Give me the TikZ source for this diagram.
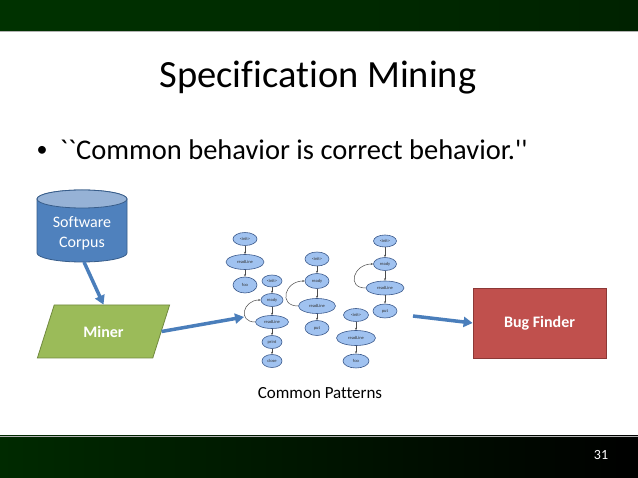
\documentclass[tikz,border=0pt]{standalone}
\usepackage{fontspec}
\setmainfont{Carlito}[Ligatures={NoCommon}]
\usetikzlibrary{arrows.meta, positioning, shapes.geometric}

\definecolor{barleft}{RGB}{0,50,0}
\definecolor{barright}{RGB}{0,34,0}
\definecolor{footleft}{RGB}{0,42,0}
\definecolor{corpusblue}{RGB}{79,129,189}
\definecolor{corpustop}{RGB}{150,178,214}
\definecolor{corpusline}{RGB}{56,93,138}
\definecolor{minergreen}{RGB}{155,187,89}
\definecolor{minerline}{RGB}{113,137,63}
\definecolor{bugred}{RGB}{192,80,77}
\definecolor{bugline}{RGB}{140,56,54}
\definecolor{flowblue}{RGB}{74,126,187}
\definecolor{statefill}{RGB}{160,194,240}
\definecolor{stateline}{RGB}{60,90,140}

\tikzset{
  state/.style={ellipse, draw=stateline, fill=statefill, line width=0.6pt,
    inner sep=0pt, text=black!80, font=\fontsize{4.5}{5}\selectfont},
  edge/.style={-{Stealth[length=2.5pt,width=2pt]}, draw=black!70, line width=0.5pt},
  flow/.style={-{Triangle[length=9pt,width=10pt]}, draw=flowblue, line width=3.5pt},
}

\begin{document}
\begin{tikzpicture}[x=1pt, y=-1pt]
    \useasboundingbox (0,0) rectangle (638,478);
    \fill[white] (0,0) rectangle (638,478);

    % Bandeaux
    \shade[left color=barleft, right color=barright] (0,0) rectangle (638,31);
    \draw[gray!60, line width=0.6pt] (0,31) -- (638,31);
    \shade[left color=footleft, right color=black] (0,436) rectangle (638,478);
    \draw[gray!60, line width=0.6pt] (0,436) -- (638,436);

    % Titre et texte
    \node (title)  at (318,78)  {\fontsize{38.5}{42}\selectfont Specification Mining};
    \node (bullet) at (42,151)  {\fontsize{22}{26}\selectfont •};
    \node[anchor=west] (quote) at (56,150)
        {\fontsize{28.5}{32}\selectfont \textasciigrave\textasciigrave Common behavior is correct behavior.\textquotesingle\textquotesingle};

    % Cylindre du corpus
    \filldraw[fill=corpusblue, draw=corpusline, line width=0.8pt]
        (37,199) -- (37,253) arc[start angle=180, end angle=360, x radius=45pt, y radius=9pt]
        -- (127,199) arc[start angle=0, end angle=180, x radius=45pt, y radius=9pt] -- cycle;
    \filldraw[fill=corpustop, draw=corpusline, line width=0.8pt] (82,199) ellipse[x radius=45pt, y radius=9pt];
    \node[text=white, align=center, font=\fontsize{16}{20}\selectfont] (corpus) at (82,233) {Software\\Corpus};
    \coordinate (corpusbot) at (84,262);

    % Blocs principaux
    \node[trapezium, trapezium left angle=66, trapezium right angle=114, trapezium stretches=true,
          draw=minerline, fill=minergreen, line width=0.8pt, minimum width=133pt, minimum height=53pt,
          text=white, font=\bfseries\fontsize{16}{20}\selectfont] (miner) at (103.5,331.5) {Miner};
    \node[rectangle, draw=bugline, fill=bugred, line width=0.8pt, minimum width=133pt, minimum height=70pt,
          text=white, font=\bfseries\fontsize{16}{20}\selectfont] (bug) at (539.5,323) {Bug Finder};

    \coordinate (patin)  at (244,317);
    \coordinate (patout) at (413,316);
    \draw[flow] (corpusbot) -- (miner.north);
    \draw[flow] (miner.east) -- (patin);
    \draw[flow] (patout) -- (bug.west);

    % Motif 1
    \node[state, minimum width=24pt, minimum height=13pt] (a1) at (245,239) {<init>};
    \node[state, minimum width=38pt, minimum height=15pt] (a2) at (245,262) {readLine};
    \node[state, minimum width=24pt, minimum height=16pt] (a3) at (245,285) {foo};
    \draw[edge] (a1) -- (a2);
    \draw[edge] (a2) -- (a3);

    % Motif 2
    \node[state, minimum width=20pt, minimum height=12pt] (b1) at (272,281) {<init>};
    \node[state, minimum width=22pt, minimum height=13pt] (b2) at (272,300) {ready};
    \node[state, minimum width=33pt, minimum height=13pt] (b3) at (272,322) {readLine};
    \node[state, minimum width=20pt, minimum height=13pt] (b4) at (272,342) {print};
    \node[state, minimum width=20pt, minimum height=13pt] (b5) at (272,361) {close};
    \draw[edge] (b1) -- (b2);
    \draw[edge] (b2) -- (b3);
    \draw[edge] (b3) -- (b4);
    \draw[edge] (b4) -- (b5);
    \draw[edge] (b3.west) to[out=180, in=180, looseness=2] (b2.west);

    % Motif 3
    \node[state, minimum width=24pt, minimum height=14pt] (c1) at (317,259) {<init>};
    \node[state, minimum width=24pt, minimum height=15pt] (c2) at (317,281) {ready};
    \node[state, minimum width=37pt, minimum height=15pt] (c3) at (317,306) {readLine};
    \node[state, minimum width=24pt, minimum height=15pt] (c4) at (317,328) {put};
    \draw[edge] (c1) -- (c2);
    \draw[edge] (c2) -- (c3);
    \draw[edge] (c3) -- (c4);
    \draw[edge] (c3.west) to[out=180, in=180, looseness=2] (c2.west);

    % Motif 4
    \node[state, minimum width=23pt, minimum height=12pt] (d1) at (385,241) {<init>};
    \node[state, minimum width=23pt, minimum height=13pt] (d2) at (385,264) {ready};
    \node[state, minimum width=38pt, minimum height=14pt] (d3) at (385,288) {readLine};
    \node[state, minimum width=24pt, minimum height=14pt] (d4) at (385,311) {put};
    \draw[edge] (d1) -- (d2);
    \draw[edge] (d2) -- (d3);
    \draw[edge] (d3) -- (d4);
    \draw[edge] (d3.west) to[out=180, in=180, looseness=2] (d2.west);

    % Motif 5
    \node[state, minimum width=25pt, minimum height=13pt] (e1) at (356,315) {<init>};
    \node[state, minimum width=39pt, minimum height=15pt] (e2) at (356,338) {readLine};
    \node[state, minimum width=26pt, minimum height=14pt] (e3) at (356,361) {foo};
    \draw[edge] (e1) -- (e2);
    \draw[edge] (e2) -- (e3);

    \node (patterns) at (320,393) {\fontsize{17}{20}\selectfont Common Patterns};
    \node[text=white] (page) at (601,455) {\fontsize{14}{16}\selectfont 31};
\end{tikzpicture}
\end{document}
